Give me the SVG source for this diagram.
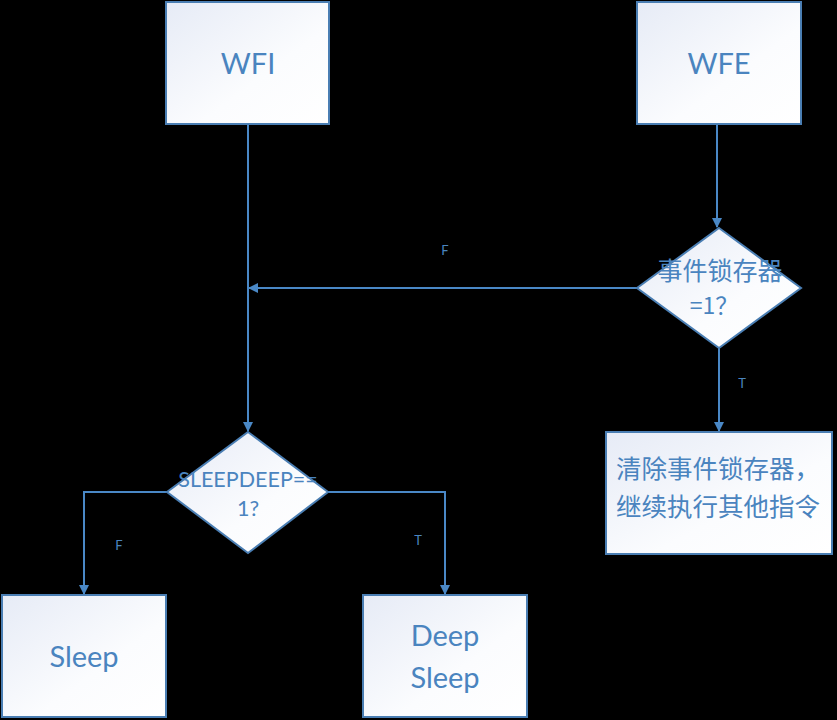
<svg xmlns="http://www.w3.org/2000/svg" width="837" height="720" viewBox="0 0 837 720">
<defs>
<linearGradient id="g" x1="0" y1="0" x2="1" y2="1">
<stop offset="0" stop-color="#e6ebf6"/>
<stop offset="0.6" stop-color="#fbfcfe"/>
<stop offset="1" stop-color="#ffffff"/>
</linearGradient>
<marker id="arr" markerWidth="10" markerHeight="10" refX="9" refY="5" orient="auto" markerUnits="userSpaceOnUse">
<path d="M0,0 L10,5 L0,10 z" fill="#4a88c6"/>
</marker>
<style>
.box{fill:url(#g);stroke:#4a7eb3;stroke-width:2}
.t{fill:#4a84bf;font-family:Lato,"Open Sans","Noto Sans CJK SC",sans-serif;text-anchor:middle}
.big{font-size:29px}
.mid{font-size:21.5px}
.sm{font-size:13px}
.cjk{font-family:"Noto Sans CJK SC",sans-serif}
.ln{fill:none;stroke:#4a88c6;stroke-width:2;marker-end:url(#arr)}
</style>
</defs>
<rect width="837" height="720" fill="#000"/>
<g id="connectors">
<path class="ln" d="M248,124 V431"/>
<path class="ln" d="M717,124 V227"/>
<path class="ln" d="M637,288 H249"/>
<path class="ln" d="M719,348 V431"/>
<path class="ln" d="M167,492 H84 V594"/>
<path class="ln" d="M328,492 H445 V594"/>
<text class="t sm" x="445" y="255">F</text>
<text class="t sm" x="742" y="388">T</text>
<text class="t sm" x="119" y="550">F</text>
<text class="t sm" x="418" y="545">T</text>
</g>
<g id="wfi">
<rect class="box" x="166" y="2" width="163" height="122"/>
<text class="t big" x="248" y="74">WFI</text>
</g>
<g id="wfe">
<rect class="box" x="637" y="2" width="164" height="122"/>
<text class="t big" x="719" y="74">WFE</text>
</g>
<g id="check_event">
<path class="box" d="M719,228 L801,288 L719,348 L637,288 Z"/>
<text class="t cjk" style="font-size:25px" x="720" y="280">事件锁存器</text>
<text class="t cjk" style="font-size:23px" x="714" y="314">=1？</text>
</g>
<g id="clear_event">
<rect class="box" x="606" y="432" width="226" height="122"/>
<text class="t cjk" style="font-size:25.5px;text-anchor:start" x="616" y="478">清除事件锁存器，</text>
<text class="t cjk" style="font-size:25.5px;text-anchor:start" x="616" y="516">继续执行其他指令</text>
</g>
<g id="sleepdeep">
<path class="box" d="M248,432 L328,492 L248,553 L167,492 Z"/>
<text class="t mid" x="248" y="487">SLEEPDEEP==</text>
<text class="t mid" x="248" y="516">1?</text>
</g>
<g id="sleep">
<rect class="box" x="2" y="595" width="164" height="122"/>
<text class="t big" x="84" y="667">Sleep</text>
</g>
<g id="deep_sleep">
<rect class="box" x="363" y="595" width="164" height="122"/>
<text class="t big" x="445" y="646">Deep</text>
<text class="t big" x="445" y="688">Sleep</text>
</g>
</svg>
